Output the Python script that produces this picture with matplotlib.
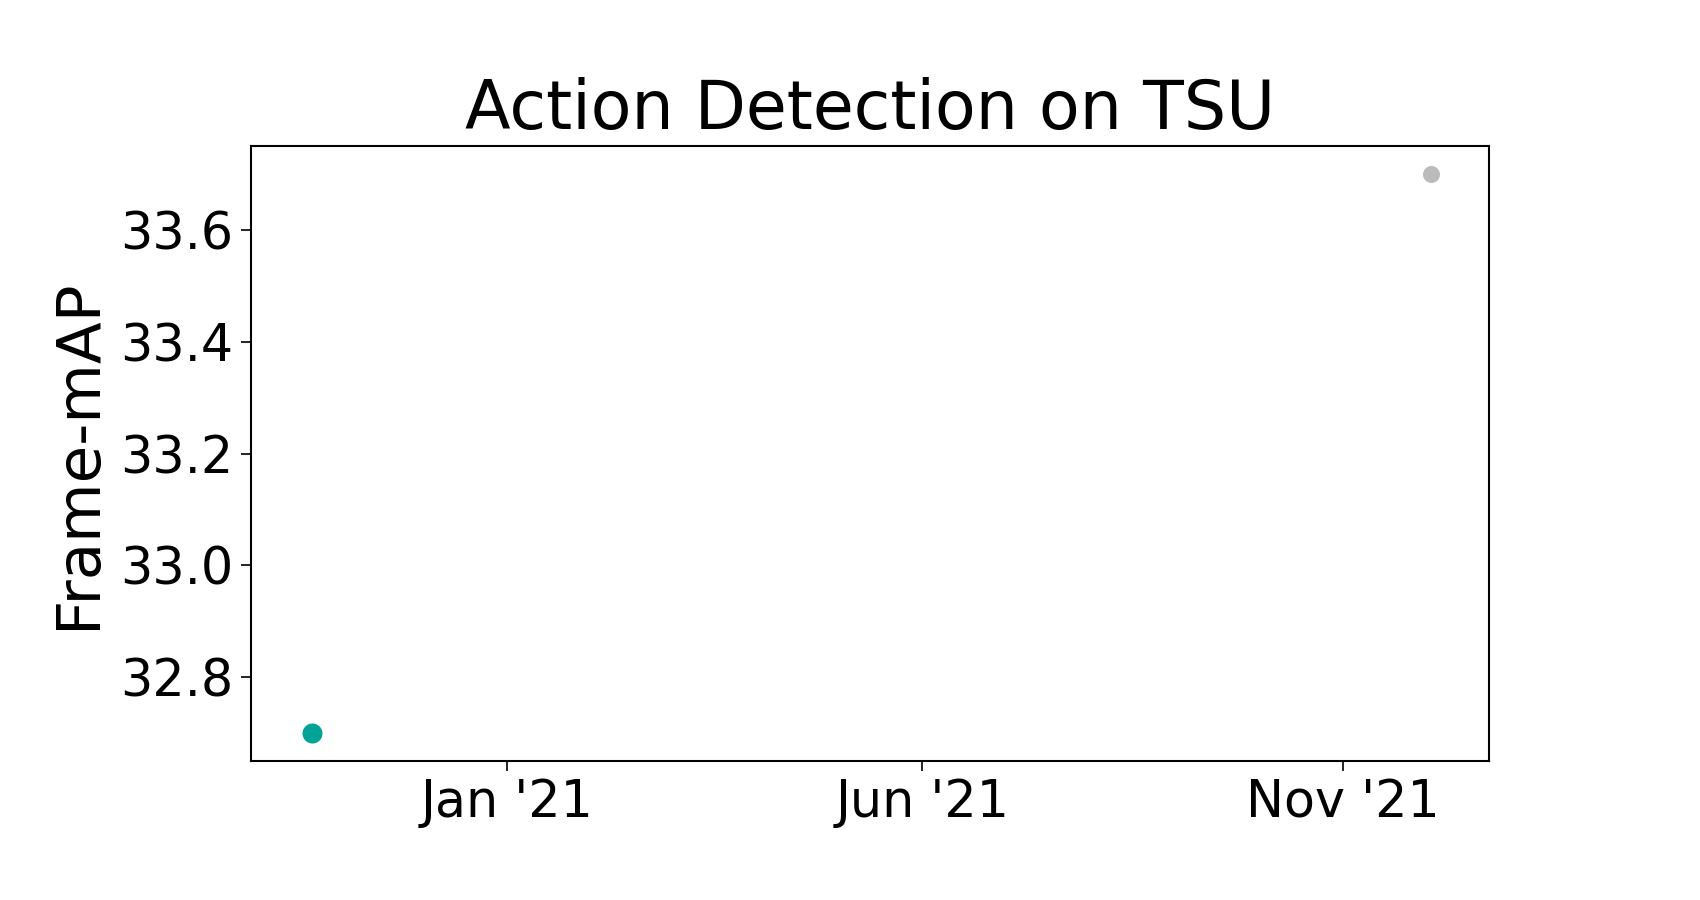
import matplotlib
matplotlib.use("Agg")
import matplotlib.pyplot as plt
import pandas as pd

dates = ["2020-10-22", "2021-12-03"]
values = [32.7, 33.7]
colors = ["#00A396", "#BBBBBB"]
sizes = [20, 17]  # marker diameter in px
xlim_dates = ["2020-09-30", "2021-12-24"]
xtick_dates = ["2021-01-01", "2021-06-01", "2021-11-01"]
xtick_labels = ["Jan '21", "Jun '21", "Nov '21"]
yticks = [32.8, 33.0, 33.2, 33.4, 33.6]
title = "Action Detection on TSU"
ylabel = "Frame-mAP"

fig = plt.figure(figsize=(17, 9), dpi=100)
ax = fig.add_axes([251 / 1700, 1 - 761 / 900, (1489 - 251) / 1700, (761 - 146) / 900])

x = pd.to_datetime(dates)
for xi, yi, c, s in zip(x, values, colors, sizes):
    ax.scatter([xi], [yi], color=c, s=(s * 72 / 100) ** 2, linewidths=0, zorder=3)

ax.set_xlim(pd.to_datetime(xlim_dates))
ax.set_xticks(pd.to_datetime(xtick_dates))
ax.set_xticklabels(xtick_labels)
ax.set_yticks(yticks)
ax.yaxis.set_major_formatter(matplotlib.ticker.FormatStrFormatter("%.1f"))
ax.tick_params(labelsize=36.5, length=7, width=1.2, pad=5.5)
ax.set_title(title, fontsize=48, pad=12)
ax.set_ylabel(ylabel, fontsize=44, labelpad=9)
for sp in ax.spines.values():
    sp.set_linewidth(1.5)

fig.savefig("out.png", dpi=100)
